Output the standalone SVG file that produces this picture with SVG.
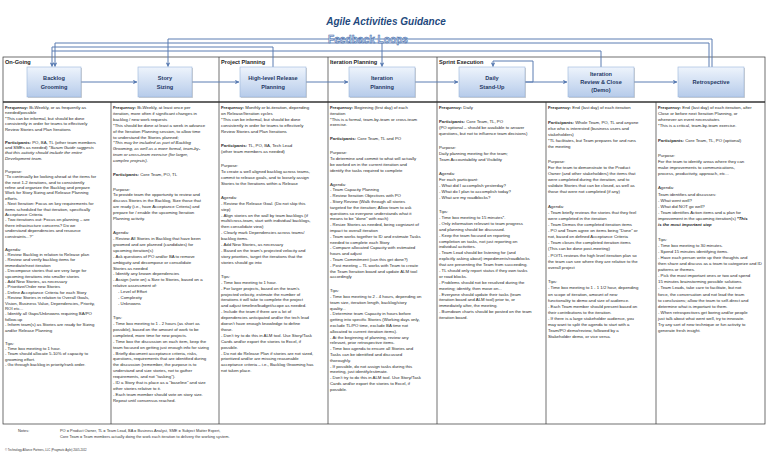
<svg xmlns="http://www.w3.org/2000/svg" width="768" height="466" viewBox="0 0 768 466">
<style>
.t{font-family:"Liberation Sans",Arial,sans-serif;font-size:4.3px;fill:#1e1e1e}
.b{font-weight:bold}
.i{font-style:italic}
.sec{font-family:"Liberation Sans",Arial,sans-serif;font-size:5.6px;font-weight:bold;fill:#1e1e1e}
.box{fill:url(#g);stroke:#9ab5db;stroke-width:0.6}
.sh{fill:#9a9a9a;opacity:0.45}
.bt{font-family:"Liberation Sans",Arial,sans-serif;font-size:5.6px;font-weight:bold;fill:#1f3864;text-anchor:middle}
.c{fill:none;stroke:#5a7cb2;stroke-width:1}
.ca{fill:none;stroke:#5a7cb2;stroke-width:1;marker-end:url(#a)}
.grid{stroke:#333;stroke-width:0.7;fill:none}
.note{font-family:"Liberation Sans",Arial,sans-serif;font-size:3.9px;fill:#333}
</style>
<defs>
<linearGradient id="g" x1="0" y1="0" x2="0" y2="1">
<stop offset="0" stop-color="#eef4fc"/>
<stop offset="1" stop-color="#b6cbea"/>
</linearGradient>
<marker id="a" viewBox="0 0 6 6" refX="5.5" refY="3" markerWidth="4.5" markerHeight="4.5" orient="auto" markerUnits="userSpaceOnUse">
<path d="M0,0 L6,3 L0,6 L1.5,3 z" fill="#5a7cb2"/>
</marker>
</defs>
<rect width="768" height="466" fill="#fff"/>

<text x="386" y="25" text-anchor="middle" style="font-family:'Liberation Sans',Arial,sans-serif;font-size:10px;font-weight:bold;font-style:italic;fill:#1f497d">Agile Activities Guidance</text>

<g id="table">
<rect class="grid" x="3" y="57" width="762" height="367"/>
<line class="grid" x1="3" y1="102" x2="765" y2="102" style="stroke-width:1.4"/>
<path class="grid" d="M219,57V424M328,57V424M437,57V424M111,102V424M546,102V424M656,102V424"/>
<text class="sec" x="5" y="64">On-Going</text>
<text class="sec" x="221" y="64">Project Planning</text>
<text class="sec" x="330" y="64">Iteration Planning</text>
<text class="sec" x="439" y="64">Sprint Execution</text>
</g>

<g id="connectors">
<path class="ca" d="M712,67V39H168V66.5"/>
<path class="ca" d="M709,67V43H55V66.5"/>
<path class="ca" d="M382,43V66.5"/>
<path class="ca" d="M273,67V47H52V66.5"/>
<path class="c" d="M601,67V51H52"/>
<path class="ca" d="M81,82H137"/>
<path class="ca" d="M192,82H239"/>
<path class="ca" d="M306,82H348"/>
<path class="ca" d="M415,82H458"/>
<path class="ca" d="M525,82H567"/>
<path class="ca" d="M634,82H677"/>
<path class="ca" d="M525,82H533V61H493V66.5"/>
</g>

<text x="328" y="43" textLength="80" lengthAdjust="spacingAndGlyphs" style="font-family:'Liberation Sans',Arial,sans-serif;font-size:10px;font-weight:bold;fill:#c6d9f0;stroke:#3f67a6;stroke-width:0.5">Feedback Loops</text>

<g id="backlog-grooming"><rect class="sh" x="28" y="68" width="54" height="30"/><rect class="box" x="27" y="67" width="54" height="30"/><text class="bt"><tspan x="54" y="79.5">Backlog</tspan><tspan x="54" y="88.5">Grooming</tspan></text></g>
<g id="story-sizing"><rect class="sh" x="139" y="68" width="54" height="30"/><rect class="box" x="138" y="67" width="54" height="30"/><text class="bt"><tspan x="165" y="79.5">Story</tspan><tspan x="165" y="88.5">Sizing</tspan></text></g>
<g id="high-level-release-planning"><rect class="sh" x="241" y="68" width="66" height="30"/><rect class="box" x="240" y="67" width="66" height="30"/><text class="bt"><tspan x="273" y="79.5">High-level Release</tspan><tspan x="273" y="88.5">Planning</tspan></text></g>
<g id="iteration-planning"><rect class="sh" x="350" y="68" width="66" height="30"/><rect class="box" x="349" y="67" width="66" height="30"/><text class="bt"><tspan x="382" y="79.5">Iteration</tspan><tspan x="382" y="88.5">Planning</tspan></text></g>
<g id="daily-stand-up"><rect class="sh" x="460" y="68" width="66" height="30"/><rect class="box" x="459" y="67" width="66" height="30"/><text class="bt"><tspan x="492" y="79.5">Daily</tspan><tspan x="492" y="88.5">Stand-Up</tspan></text></g>
<g id="iteration-review"><rect class="sh" x="569" y="68" width="66" height="30"/><rect class="box" x="568" y="67" width="66" height="30"/><text class="bt"><tspan x="601" y="75.5">Iteration</tspan><tspan x="601" y="83.7">Review &amp; Close</tspan><tspan x="601" y="91.9">(Demo)</tspan></text></g>
<g id="retrospective"><rect class="sh" x="679" y="68" width="66" height="30"/><rect class="box" x="678" y="67" width="66" height="30"/><text class="bt"><tspan x="711" y="84">Retrospective</tspan></text></g>

<g id="col-ongoing">
<text class="t" y="109">
<tspan x="5"><tspan class="b">Frequency:</tspan> Bi-Weekly, or as frequently as</tspan>
<tspan x="5" dy="5.4">needed/possible</tspan>
<tspan x="5" dy="5.4">*This can be informal, but should be done</tspan>
<tspan x="5" dy="5.4">consistently in order for teams to effectively</tspan>
<tspan x="5" dy="5.4">Review Stories and Plan Iterations</tspan>
<tspan x="5" dy="13"><tspan class="b">Participants:</tspan> PO, BA, TL (other team members</tspan>
<tspan x="5" dy="5.4">and SMEs as needed) <tspan class="i">*Scrum Guide suggests</tspan></tspan>
<tspan x="5" dy="5.4" class="i">that this activity should include the entire</tspan>
<tspan x="5" dy="5.4" class="i">Development team.</tspan>
<tspan x="5" dy="13">Purpose:</tspan>
<tspan x="5" dy="5.4">"To continually be looking ahead at the items for</tspan>
<tspan x="5" dy="5.4">the next 1-2 iterations, and to consistently</tspan>
<tspan x="5" dy="5.4">refine and organize the Backlog and prepare</tspan>
<tspan x="5" dy="5.4">Work for Story Sizing and Release Planning</tspan>
<tspan x="5" dy="5.4">efforts.</tspan>
<tspan x="5" dy="5.4">- Next Iteration: Focus on key requirements for</tspan>
<tspan x="5" dy="5.4">items scheduled for that iteration, specifically</tspan>
<tspan x="5" dy="5.4">Acceptance Criteria</tspan>
<tspan x="5" dy="5.4">- Two iterations out: Focus on planning – are</tspan>
<tspan x="5" dy="5.4">there infrastructure concerns? Do we</tspan>
<tspan x="5" dy="5.4">understand dependencies and resource</tspan>
<tspan x="5" dy="5.4">constraints...?"</tspan>
<tspan x="5" dy="13">Agenda:</tspan>
<tspan x="5" dy="5.4">- Review Backlog in relation to Release plan</tspan>
<tspan x="5" dy="5.4">- Review and verify backlog items for</tspan>
<tspan x="5" dy="5.4">immediate/next iteration</tspan>
<tspan x="5" dy="5.4">- Decompose stories that are very large for</tspan>
<tspan x="5" dy="5.4">upcoming iterations into smaller stories</tspan>
<tspan x="5" dy="5.4">- Add New Stories, as necessary</tspan>
<tspan x="5" dy="5.4">- Prioritize/Order new Stories</tspan>
<tspan x="5" dy="5.4">- Define Acceptance Criteria for each Story</tspan>
<tspan x="5" dy="5.4">- Review Stories in relation to Overall Goals,</tspan>
<tspan x="5" dy="5.4">Vision, Business Value, Dependencies, Priority,</tspan>
<tspan x="5" dy="5.4">ROI etc...</tspan>
<tspan x="5" dy="5.4">- Identify all Gaps/Unknowns requiring BA/PO</tspan>
<tspan x="5" dy="5.4">follow-up</tspan>
<tspan x="5" dy="5.4">- Inform team(s) as Stories are ready for Sizing</tspan>
<tspan x="5" dy="5.4">and/or Release Planning</tspan>
<tspan x="5" dy="13">Tips:</tspan>
<tspan x="5" dy="5.4">- Time box meeting to 1 hour.</tspan>
<tspan x="5" dy="5.4">- Team should allocate 5-10% of capacity to</tspan>
<tspan x="5" dy="5.4">grooming effort.</tspan>
<tspan x="5" dy="5.4">- Go through backlog in priority/rank order.</tspan>
</text>
</g>

<g id="col-story-sizing">
<text class="t" y="109">
<tspan x="113"><tspan class="b">Frequency:</tspan> Bi-Weekly, at least once per</tspan>
<tspan x="113" dy="5.9">iteration, more often if significant changes in</tspan>
<tspan x="113" dy="5.9">backlog / new work requests</tspan>
<tspan x="113" dy="5.9">*This should be done at least a week in advance</tspan>
<tspan x="113" dy="5.9">of the Iteration Planning session, to allow time</tspan>
<tspan x="113" dy="5.9">to understand the Stories planned;</tspan>
<tspan x="113" dy="5.9" class="i">*This may be included as part of Backlog</tspan>
<tspan x="113" dy="5.9" class="i">Grooming, as well as a more formal, team-by-</tspan>
<tspan x="113" dy="5.9" class="i">team or cross-team exercise (for larger,</tspan>
<tspan x="113" dy="5.9" class="i">complex projects).</tspan>
<tspan x="113" dy="14.2"><tspan class="b">Participants:</tspan> Core Team, PO, TL</tspan>
<tspan x="113" dy="14.2">Purpose:</tspan>
<tspan x="113" dy="5.9">To provide team the opportunity to review and</tspan>
<tspan x="113" dy="5.9">discuss Stories in the Backlog, Size those that</tspan>
<tspan x="113" dy="5.9">are ready (i.e., have Acceptance Criteria) and</tspan>
<tspan x="113" dy="5.9">prepare for / enable the upcoming Iteration</tspan>
<tspan x="113" dy="5.9">Planning activity.</tspan>
<tspan x="113" dy="14.2">Agenda:</tspan>
<tspan x="113" dy="5.9">- Review All Stories in Backlog that have been</tspan>
<tspan x="113" dy="5.9">groomed and are planned (candidates) for</tspan>
<tspan x="113" dy="5.9">upcoming iteration(s)</tspan>
<tspan x="113" dy="5.9">- Ask questions of PO and/or BA to remove</tspan>
<tspan x="113" dy="5.9">ambiguity and decompose or consolidate</tspan>
<tspan x="113" dy="5.9">Stories as needed</tspan>
<tspan x="113" dy="5.9">- Identify any known dependencies</tspan>
<tspan x="113" dy="5.9">- Assign (vote on) a Size to Stories, based on a</tspan>
<tspan x="113" dy="5.9">relative assessment of:</tspan>
<tspan x="118" dy="5.9">- Level of Effort</tspan>
<tspan x="118" dy="5.9">- Complexity</tspan>
<tspan x="118" dy="5.9">- Unknowns</tspan>
<tspan x="113" dy="14.2">Tips:</tspan>
<tspan x="113" dy="5.9">- Time box meeting to 1 - 2 hours (as short as</tspan>
<tspan x="113" dy="5.9">possible), based on the amount of work to be</tspan>
<tspan x="113" dy="5.9">completed, more time for new projects.</tspan>
<tspan x="113" dy="5.9">- Time box the discussion on each item, keep the</tspan>
<tspan x="113" dy="5.9">team focused on getting just enough info for sizing</tspan>
<tspan x="113" dy="5.9">- Briefly document acceptance criteria, risks,</tspan>
<tspan x="113" dy="5.9">questions, requirements that are identified during</tspan>
<tspan x="113" dy="5.9">the discussion (remember, the purpose is to</tspan>
<tspan x="113" dy="5.9">understand and size stories, not to gather</tspan>
<tspan x="113" dy="5.9">requirements, and not "tasking").</tspan>
<tspan x="113" dy="5.9">- ID a Story that is place as a "baseline" and size</tspan>
<tspan x="113" dy="5.9">other stories relative to it.</tspan>
<tspan x="113" dy="5.9">- Each team member should vote on story size.</tspan>
<tspan x="113" dy="5.9">Repeat until consensus reached.</tspan>
</text>
</g>

<g id="col-project-planning">
<text class="t" y="109">
<tspan x="221"><tspan class="b">Frequency:</tspan> Monthly or bi-iteration, depending</tspan>
<tspan x="221" dy="5.9">on Release/Iteration cycles</tspan>
<tspan x="221" dy="5.9">*This can be informal, but should be done</tspan>
<tspan x="221" dy="5.9">consistently in order for teams to effectively</tspan>
<tspan x="221" dy="5.9">Review Stories and Plan Iterations</tspan>
<tspan x="221" dy="14.2"><tspan class="b">Participants:</tspan> TL, PO, BA, Tech Lead</tspan>
<tspan x="221" dy="5.9">(other team members as needed)</tspan>
<tspan x="221" dy="14.2">Purpose:</tspan>
<tspan x="221" dy="5.9">To create a well aligned backlog across teams,</tspan>
<tspan x="221" dy="5.9">commit to release goals, and to loosely assign</tspan>
<tspan x="221" dy="5.9">Stories to the Iterations within a Release</tspan>
<tspan x="221" dy="14.2">Agenda:</tspan>
<tspan x="221" dy="5.9">- Review the Release Goal. (Do not skip this</tspan>
<tspan x="221" dy="5.9">step)</tspan>
<tspan x="221" dy="5.9">- Align stories on the wall by team backlogs (if</tspan>
<tspan x="221" dy="5.9">multi/cross-team, start with individual backlogs,</tspan>
<tspan x="221" dy="5.9">then consolidate view)</tspan>
<tspan x="221" dy="5.9">- Clearly mark Dependencies across teams/</tspan>
<tspan x="221" dy="5.9">backlog items.</tspan>
<tspan x="221" dy="5.9">- Add New Stories, as necessary</tspan>
<tspan x="221" dy="5.9">- Based on the team's projected velocity and</tspan>
<tspan x="221" dy="5.9">story priorities, target the iterations that the</tspan>
<tspan x="221" dy="5.9">stories should go into</tspan>
<tspan x="221" dy="14.2">Tips:</tspan>
<tspan x="221" dy="5.9">- Time box meeting to 1 hour.</tspan>
<tspan x="221" dy="5.9">- For larger projects, based on the team's</tspan>
<tspan x="221" dy="5.9">projected velocity, estimate the number of</tspan>
<tspan x="221" dy="5.9">iterations it will take to complete the project</tspan>
<tspan x="221" dy="5.9">and adjust timeline/budget/scope as needed.</tspan>
<tspan x="221" dy="5.9">- Include the team if there are a lot of</tspan>
<tspan x="221" dy="5.9">dependencies anticipated and/or the tech lead</tspan>
<tspan x="221" dy="5.9">doesn't have enough knowledge to define</tspan>
<tspan x="221" dy="5.9">those.</tspan>
<tspan x="221" dy="5.9">- Don't try to do this in ALM tool. Use Story/Task</tspan>
<tspan x="221" dy="5.9">Cards and/or export the stories to Excel, if</tspan>
<tspan x="221" dy="5.9">possible.</tspan>
<tspan x="221" dy="5.9">- Do not do Release Plan if stories are not sized,</tspan>
<tspan x="221" dy="5.9">prioritized and/or are missing reasonable</tspan>
<tspan x="221" dy="5.9">acceptance criteria – i.e., Backlog Grooming has</tspan>
<tspan x="221" dy="5.9">not taken place.</tspan>
</text>
</g>

<g id="col-iteration-planning">
<text class="t" y="109">
<tspan x="330"><tspan class="b">Frequency:</tspan> Beginning (first day) of each</tspan>
<tspan x="330" dy="5.8">iteration</tspan>
<tspan x="330" dy="5.8">*This is a formal, team-by-team or cross-team</tspan>
<tspan x="330" dy="5.8">exercise.</tspan>
<tspan x="330" dy="13.9"><tspan class="b">Participants:</tspan> Core Team, TL and PO</tspan>
<tspan x="330" dy="13.9">Purpose:</tspan>
<tspan x="330" dy="5.8">To determine and commit to what will actually</tspan>
<tspan x="330" dy="5.8">be worked on in the current iteration and</tspan>
<tspan x="330" dy="5.8">identify the tasks required to complete</tspan>
<tspan x="330" dy="13.9">Agenda:</tspan>
<tspan x="330" dy="5.8">- Team Capacity Planning</tspan>
<tspan x="330" dy="5.8">- Review Iteration Objectives with PO</tspan>
<tspan x="330" dy="5.8">- Story Review (Walk through all stories</tspan>
<tspan x="330" dy="5.8">targeted for the iteration; Allow team to ask</tspan>
<tspan x="330" dy="5.8">questions so everyone understands what it</tspan>
<tspan x="330" dy="5.8">means to be "done" with each)</tspan>
<tspan x="330" dy="5.8">- Resize Stories as needed, being cognizant of</tspan>
<tspan x="330" dy="5.8">impact to overall iteration</tspan>
<tspan x="330" dy="5.8">- Team works together to ID and estimate Tasks</tspan>
<tspan x="330" dy="5.8">needed to complete each Story</tspan>
<tspan x="330" dy="5.8">- Compare allocated Capacity with estimated</tspan>
<tspan x="330" dy="5.8">hours and adjust</tspan>
<tspan x="330" dy="5.8">- Team Commitment (can this get done?)</tspan>
<tspan x="330" dy="5.8">- Post meeting – TL works with Team to create</tspan>
<tspan x="330" dy="5.8">the Team Iteration board and update ALM tool</tspan>
<tspan x="330" dy="5.8">accordingly</tspan>
<tspan x="330" dy="13.9">Tips:</tspan>
<tspan x="330" dy="5.8">- Time box meeting to 2 - 4 hours, depending on</tspan>
<tspan x="330" dy="5.8">team size, iteration length, backlog/story</tspan>
<tspan x="330" dy="5.8">quality...</tspan>
<tspan x="330" dy="5.8">- Determine team Capacity in hours before</tspan>
<tspan x="330" dy="5.8">getting into specific Stories (Working days only,</tspan>
<tspan x="330" dy="5.8">exclude TL/PO time, exclude BA time not</tspan>
<tspan x="330" dy="5.8">allocated to current iteration items).</tspan>
<tspan x="330" dy="5.8">- At the beginning of planning, review any</tspan>
<tspan x="330" dy="5.8">relevant, prior retrospective items.</tspan>
<tspan x="330" dy="5.8">- Time box agenda to ensure all Stories and</tspan>
<tspan x="330" dy="5.8">Tasks can be identified and discussed</tspan>
<tspan x="330" dy="5.8">thoroughly.</tspan>
<tspan x="330" dy="5.8">- If possible, do not assign tasks during this</tspan>
<tspan x="330" dy="5.8">meeting, just identify/estimate.</tspan>
<tspan x="330" dy="5.8">- Don't try to do this in ALM tool. Use Story/Task</tspan>
<tspan x="330" dy="5.8">Cards and/or export the stories to Excel, if</tspan>
<tspan x="330" dy="5.8">possible.</tspan>
</text>
</g>

<g id="col-daily-stand-up">
<text class="t" y="109">
<tspan x="439"><tspan class="b">Frequency:</tspan> Daily</tspan>
<tspan x="439" dy="14.2"><tspan class="b">Participants:</tspan> Core Team, TL, PO</tspan>
<tspan x="439" dy="5.9">(PO optional – should be available to answer</tspan>
<tspan x="439" dy="5.9">questions, but not to influence team decisions)</tspan>
<tspan x="439" dy="14.2">Purpose:</tspan>
<tspan x="439" dy="5.9">Daily planning meeting for the team;</tspan>
<tspan x="439" dy="5.9">Team Accountability and Visibility</tspan>
<tspan x="439" dy="14.2">Agenda:</tspan>
<tspan x="439" dy="5.9">For each participant:</tspan>
<tspan x="439" dy="5.9">- What did I accomplish yesterday?</tspan>
<tspan x="439" dy="5.9">- What do I plan to accomplish today?</tspan>
<tspan x="439" dy="5.9">- What are my roadblocks?</tspan>
<tspan x="439" dy="14.2">Tips:</tspan>
<tspan x="439" dy="5.9">- Time box meeting to 15 minutes*.</tspan>
<tspan x="439" dy="5.9">- Only information relevant to team progress</tspan>
<tspan x="439" dy="5.9">and planning should be discussed.</tspan>
<tspan x="439" dy="5.9">- Keep the team focused on reporting</tspan>
<tspan x="439" dy="5.9">completion on tasks, not just reporting on</tspan>
<tspan x="439" dy="5.9">individual activities.</tspan>
<tspan x="439" dy="5.9">- Team Lead should be listening for (and</tspan>
<tspan x="439" dy="5.9">explicitly asking about) impediments/roadblocks</tspan>
<tspan x="439" dy="5.9">that are preventing the Team from succeeding.</tspan>
<tspan x="439" dy="5.9">- TL should only report status if they own tasks</tspan>
<tspan x="439" dy="5.9">or road blocks.</tspan>
<tspan x="439" dy="5.9">- Problems should not be resolved during the</tspan>
<tspan x="439" dy="5.9">meeting; identify, then move on...</tspan>
<tspan x="439" dy="5.9">- Everyone should update their tasks (team</tspan>
<tspan x="439" dy="5.9">iteration board and ALM tool) prior to, or</tspan>
<tspan x="439" dy="5.9">immediately after, the meeting.</tspan>
<tspan x="439" dy="5.9">- Burndown charts should be posted on the team</tspan>
<tspan x="439" dy="5.9">iteration board.</tspan>
</text>
</g>

<g id="col-iteration-review">
<text class="t" y="109">
<tspan x="548"><tspan class="b">Frequency:</tspan> End (last day) of each iteration</tspan>
<tspan x="548" dy="14.6"><tspan class="b">Participants:</tspan> Whole Team, PO, TL and anyone</tspan>
<tspan x="548" dy="6.1">else who is interested (business users and</tspan>
<tspan x="548" dy="6.1">stakeholders)</tspan>
<tspan x="548" dy="6.1">*TL facilitates, but Team prepares for and runs</tspan>
<tspan x="548" dy="6.1">the meeting</tspan>
<tspan x="548" dy="14.6">Purpose:</tspan>
<tspan x="548" dy="6.1">For the team to demonstrate to the Product</tspan>
<tspan x="548" dy="6.1">Owner (and other stakeholders) the items that</tspan>
<tspan x="548" dy="6.1">were completed during the iteration, and to</tspan>
<tspan x="548" dy="6.1">validate Stories that can be closed, as well as</tspan>
<tspan x="548" dy="6.1">those that were not completed (if any)</tspan>
<tspan x="548" dy="14.6">Agenda:</tspan>
<tspan x="548" dy="6.1">- Team briefly reviews the stories that they feel</tspan>
<tspan x="548" dy="6.1">were completed in the iteration</tspan>
<tspan x="548" dy="6.1">- Team Demos the completed iteration items</tspan>
<tspan x="548" dy="6.1">- PO and Team agree on items being "Done" or</tspan>
<tspan x="548" dy="6.1">not, based on defined Acceptance Criteria</tspan>
<tspan x="548" dy="6.1">- Team closes the completed iteration items</tspan>
<tspan x="548" dy="6.1">(This can be done post-meeting)</tspan>
<tspan x="548" dy="6.1">- PO/TL reviews the high level iteration plan so</tspan>
<tspan x="548" dy="6.1">the team can see where they are relative to the</tspan>
<tspan x="548" dy="6.1">overall project</tspan>
<tspan x="548" dy="14.6">Tips:</tspan>
<tspan x="548" dy="6.1">- Time box meeting to 1 - 1 1/2 hour, depending</tspan>
<tspan x="548" dy="6.1">on scope of iteration, amount of new</tspan>
<tspan x="548" dy="6.1">functionality to demo and size of audience.</tspan>
<tspan x="548" dy="6.1">- Each Team member should present based on</tspan>
<tspan x="548" dy="6.1">their contributions to the iteration.</tspan>
<tspan x="548" dy="6.1">- If there is a large stakeholder audience, you</tspan>
<tspan x="548" dy="6.1">may want to split the agenda to start with a</tspan>
<tspan x="548" dy="6.1">Team/PO demo/review, followed by a</tspan>
<tspan x="548" dy="6.1">Stakeholder demo, or vice versa.</tspan>
</text>
</g>

<g id="col-retrospective">
<text class="t" y="109">
<tspan x="658"><tspan class="b">Frequency:</tspan> End (last day) of each iteration, after</tspan>
<tspan x="658" dy="6.1">Close or before next Iteration Planning, or</tspan>
<tspan x="658" dy="6.1">whenever an event necessitates</tspan>
<tspan x="658" dy="6.1">*This is a critical, team-by-team exercise.</tspan>
<tspan x="658" dy="14.6"><tspan class="b">Participants:</tspan> Core Team, TL, PO (optional)</tspan>
<tspan x="658" dy="14.6">Purpose:</tspan>
<tspan x="658" dy="6.1">For the team to identify areas where they can</tspan>
<tspan x="658" dy="6.1">make improvements to communications,</tspan>
<tspan x="658" dy="6.1">process, productivity, approach, etc...</tspan>
<tspan x="658" dy="14.6">Agenda:</tspan>
<tspan x="658" dy="6.1">Team identifies and discusses:</tspan>
<tspan x="658" dy="6.1">- What went well?</tspan>
<tspan x="658" dy="6.1">- What did NOT go well?</tspan>
<tspan x="658" dy="6.1">- Team identifies Action items and a plan for</tspan>
<tspan x="658" dy="6.1">improvement in the upcoming iteration(s) <tspan class="b i">*This</tspan></tspan>
<tspan x="658" dy="6.1" class="b i">is the most important step</tspan>
<tspan x="658" dy="14.6">Tips:</tspan>
<tspan x="658" dy="6.1">- Time box meeting to 30 minutes.</tspan>
<tspan x="658" dy="6.1">- Spend 15 minutes identifying items.</tspan>
<tspan x="658" dy="6.1">- Have each person write up their thoughts and</tspan>
<tspan x="658" dy="6.1">then share and discuss as a team to categorize and ID</tspan>
<tspan x="658" dy="6.1">patterns or themes.</tspan>
<tspan x="658" dy="6.1">- Pick the most important ones or two and spend</tspan>
<tspan x="658" dy="6.1">15 minutes brainstorming possible solutions.</tspan>
<tspan x="658" dy="6.1">- Team Leads, take care to facilitate, but not</tspan>
<tspan x="658" dy="6.1">force, the conversation and not lead the team</tspan>
<tspan x="658" dy="6.1">to conclusions; allow the team to self-direct and</tspan>
<tspan x="658" dy="6.1">determine what is important to them.</tspan>
<tspan x="658" dy="6.1">- When retrospectives get boring and/or people</tspan>
<tspan x="658" dy="6.1">just talk about what went well, try to innovate.</tspan>
<tspan x="658" dy="6.1">Try any sort of new technique or fun activity to</tspan>
<tspan x="658" dy="6.1">generate fresh insight.</tspan>
</text>
</g>

<g id="notes">
<text class="note" x="18" y="432">Notes:</text>
<text class="note"><tspan x="60" y="432">PO = Product Owner, TL = Team Lead, BA = Business Analyst, SME = Subject Matter Expert,</tspan><tspan x="60" y="438">Core Team = Team members actually doing the work each iteration to delivery the working system.</tspan></text>
<text x="5" y="451" style="font-family:'Liberation Sans',Arial,sans-serif;font-size:2.8px;fill:#333">© Technology Alliance Partners, LLC (Pragmatic Agile) 2005-2012</text>
</g>
</svg>
